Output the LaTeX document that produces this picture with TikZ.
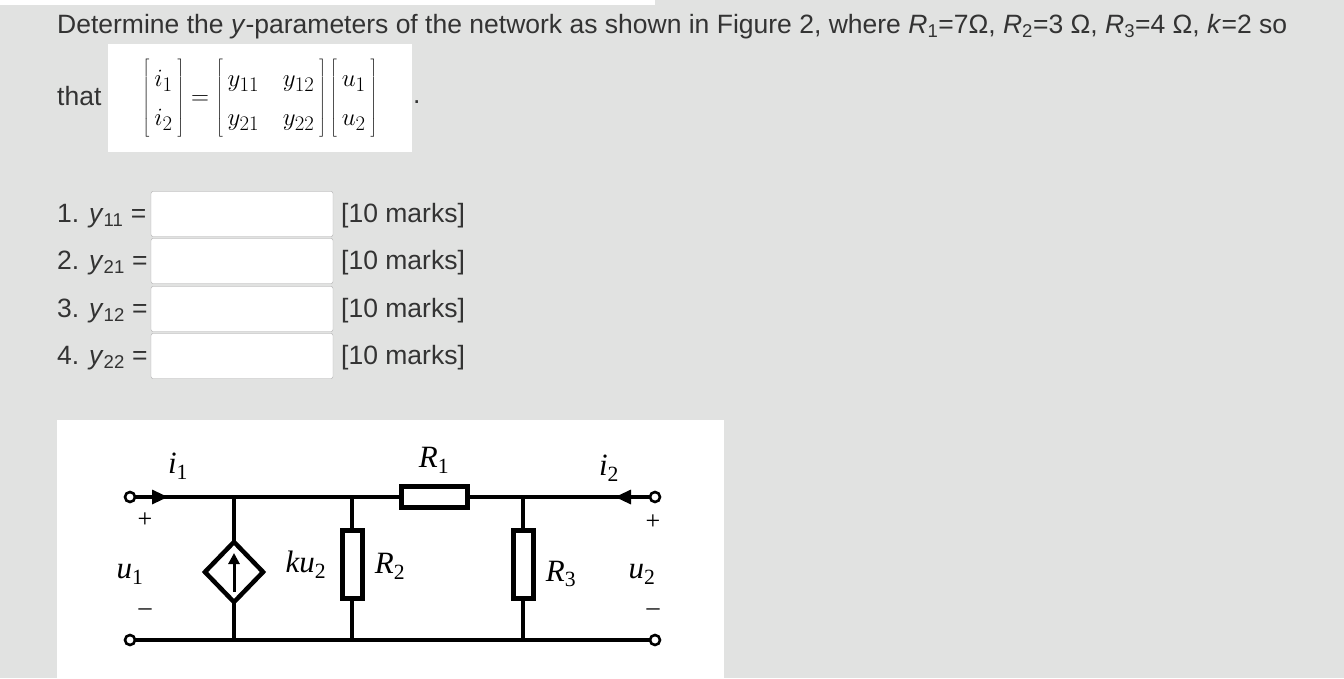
\documentclass[tikz,border=0pt]{standalone}
\usepackage{fontspec}
\setmainfont{Liberation Sans}
\newfontfamily\tms{Liberation Serif}
\usetikzlibrary{arrows.meta,shapes.geometric}
\definecolor{bg}{HTML}{E1E2E1}
\definecolor{txt}{HTML}{333333}
\definecolor{bordc}{HTML}{AAAAAA}
\tikzset{
  mtext/.style={anchor=base west,font=\fontsize{26.5}{30}\selectfont,text=txt,inner sep=0},
  ansbox/.style={draw=bordc,fill=white,minimum width=182,minimum height=45,inner sep=0,rounded corners=2},
  wire/.style={line width=3.2},
  res/.style={draw,line width=5,fill=white,inner sep=0},
  clab/.style={font=\tms\itshape\fontsize{31}{34}\selectfont,inner sep=0},
  term/.style={circle,draw,line width=2.6,fill=white,minimum size=10,inner sep=0},
  flow/.style={-{Triangle[length=16,width=14]},line width=3.2}
}
\begin{document}
\begin{tikzpicture}[x=1pt,y=-1pt]
\fill[bg] (0,0) rectangle (1344,678);
\useasboundingbox (0,0) rectangle (1344,678);
\fill[white] (0,0) rectangle (655,5);
\node[mtext] (t1) at (57,33) {Determine the \emph{y}-parameters of the network as shown in Figure 2, where \emph{R}\textsubscript{1}=7Ω, \emph{R}\textsubscript{2}=3 Ω, \emph{R}\textsubscript{3}=4 Ω, \emph{k}=2 so};
\node[mtext] (that) at (57,105) {that};
\node[fill=white,minimum width=304,minimum height=108,inner sep=0] (mbox) at (260,98) {};
\node[inner sep=0,font=\fontsize{30}{34}\selectfont] (mat) at (260,98) {$\renewcommand{\arraystretch}{1.15}\left[\begin{array}{c} i_1\\ i_2\end{array}\right]=\left[\begin{array}{c} y_{11}\\ y_{21}\end{array}\;\;\begin{array}{c} y_{12}\\ y_{22}\end{array}\right]\left[\begin{array}{c} u_1\\ u_2\end{array}\right]$};
\node[mtext] (dot) at (413,103) {.};
\foreach \n/\sub/\y in {1/11/214,2/21/261,3/12/309,4/22/356}{
  \node[mtext] (q\n) at (57,\y+8) {\n. \emph{y}\textsubscript{\sub} =};
  \node[ansbox] (b\n) at (242,\y) {};
  \node[mtext] (m\n) at (341,\y+8) {[10 marks]};
}
\fill[white] (57,420) rectangle (724,678);
% circuit
\coordinate (tl) at (130,497); \coordinate (bl) at (130,640);
\coordinate (tr) at (655,497); \coordinate (br) at (655,640);
\coordinate (ds) at (234,497); \coordinate (dsb) at (234,640);
\coordinate (r2t) at (352,497); \coordinate (r2b) at (352,640);
\coordinate (r3t) at (523,497); \coordinate (r3b) at (523,640);
\draw[wire] (tl) -- (tr);
\draw[wire] (bl) -- (br);
\draw[wire] (ds) -- (dsb);
\draw[wire] (r2t) -- (r2b);
\draw[wire] (r3t) -- (r3b);
\node[res,minimum width=66,minimum height=21] (R1) at (434,497) {};
\node[res,minimum width=20,minimum height=68] (R2) at (352,564) {};
\node[res,minimum width=20,minimum height=68] (R3) at (523,564) {};
\node[draw,line width=4.5,fill=white,minimum width=60,minimum height=62,shape=diamond,inner sep=0] (D) at (234,572) {};
\coordinate (da) at (234,592); \coordinate (db) at (234,553);
\draw[-{Triangle[length=11,width=11]},line width=3] (da) -- (db);
\coordinate (a1s) at (140,497); \coordinate (a1e) at (168,497);
\draw[flow] (a1s) -- (a1e);
\coordinate (a2s) at (645,497); \coordinate (a2e) at (615,497);
\draw[flow] (a2s) -- (a2e);
\node[term] (T1) at (tl) {}; \node[term] (T2) at (bl) {};
\node[term] (T3) at (tr) {}; \node[term] (T4) at (br) {};
\node[clab] (li1) at (178,466) {i\textsubscript{\upshape 1}};
\node[clab] (li2) at (609,468) {i\textsubscript{\upshape 2}};
\node[clab] (lR1) at (434,460) {R\textsubscript{\upshape 1}};
\node[clab] (lR2) at (390,566) {R\textsubscript{\upshape 2}};
\node[clab] (lR3) at (561,574) {R\textsubscript{\upshape 3}};
\node[clab] (lk) at (306,565) {ku\textsubscript{\upshape 2}};
\node[clab] (lu1) at (130,574) {u\textsubscript{\upshape 1}};
\node[clab] (lu2) at (642,574) {u\textsubscript{\upshape 2}};
\node[font=\tms\fontsize{26}{28}\selectfont,inner sep=0] (p1) at (145,520) {+};
\node[font=\tms\fontsize{26}{28}\selectfont,inner sep=0] (p2) at (653,522) {+};
\node[font=\tms\fontsize{26}{28}\selectfont,inner sep=0] (n1) at (145,612) {–};
\node[font=\tms\fontsize{26}{28}\selectfont,inner sep=0] (n2) at (653,612) {–};
\end{tikzpicture}
\end{document}
